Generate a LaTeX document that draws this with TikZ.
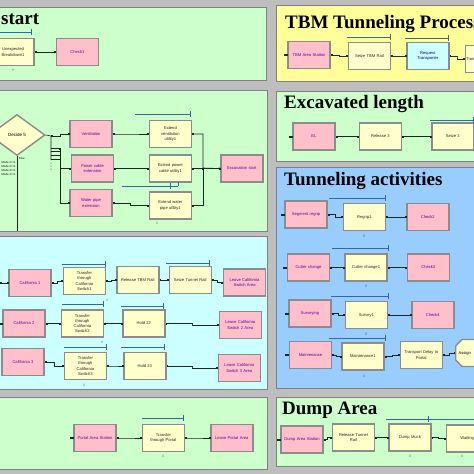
\documentclass[tikz,border=0pt]{standalone}
\usepackage{fontspec}
\setmainfont{Liberation Serif}
\setsansfont{Liberation Sans}
\usetikzlibrary{calc,positioning,arrows.meta,shapes.geometric,shapes.misc}
\definecolor{bggray}{RGB}{190,190,190}
\definecolor{panelgreen}{RGB}{204,255,204}
\definecolor{panelcyan}{RGB}{204,255,255}
\definecolor{panelyellow}{RGB}{255,255,153}
\definecolor{panelblue}{RGB}{153,204,255}
\definecolor{pinkbox}{RGB}{255,192,203}
\definecolor{yelbox}{RGB}{255,255,204}
\definecolor{cyanbox}{RGB}{204,255,255}
\definecolor{modedge}{RGB}{140,140,140}
\definecolor{purptext}{RGB}{102,0,153}
\definecolor{resblue}{RGB}{51,102,170}
\definecolor{linkgray}{RGB}{25,40,30}
\tikzset{
  module/.style={
    rectangle,
    draw=modedge, line width=1.4pt,
    minimum width=42pt,
    minimum height=27pt,
    inner sep=0.5pt,
    text width=40pt,
    align=center,
    font=\sffamily\fontsize{4.1}{5.2}\selectfont},
  create/.style={module, fill=pinkbox, text=purptext},
  process/.style={module, fill=yelbox, text=black!85},
  request/.style={module, fill=cyanbox, text=blue!50!black},
  assigner/.style={module, chamfered rectangle, chamfered rectangle xsep=4pt, chamfered rectangle ysep=4pt, fill=yelbox, align=left},
  decision/.style={diamond, draw=modedge, line width=1.4pt, fill=yelbox,
    minimum width=56pt, minimum height=41pt, inner sep=0pt,
    font=\sffamily\fontsize{4.5}{5.4}\selectfont},
  panel/.style={draw=black!50, line width=0.8pt},
  paneltitle/.style={anchor=base west, inner sep=0pt,
    font=\bfseries\fontsize{19}{19}\selectfont},
  link/.style={draw=linkgray, line width=0.6pt, {Square[length=1.5pt]}-{Square[length=1.5pt]}},
  wire/.style={draw=linkgray, line width=0.6pt},
  jog/.style={to path={-| ($(\tikztostart)!.5!(\tikztotarget)$) |- (\tikztotarget)}},
  resbar/.style={draw=resblue, line width=0.8pt},
  counter/.style={font=\sffamily\fontsize{3.5}{4}\selectfont, inner sep=0pt},
  tinylabel/.style={font=\sffamily\fontsize{2.8}{3}\selectfont, inner sep=0pt},
}
\begin{document}
\begin{tikzpicture}[x=1pt, y=-1pt]
    \path[use as bounding box] (0,0) rectangle (474,474);
    \clip (0,0) rectangle (474,474);
    \fill[bggray] (0,0) rectangle (474,474);

    % panels
    \filldraw[panel, fill=panelgreen] (-5,7) rectangle (266,80);
    \filldraw[panel, fill=panelgreen] (-5,90) rectangle (267,231);
    \filldraw[panel, fill=panelcyan] (-5,236) rectangle (267,389);
    \filldraw[panel, fill=panelgreen] (-5,397) rectangle (267,469);
    \filldraw[panel, fill=panelyellow] (276,5) rectangle (480,81);
    \filldraw[panel, fill=panelgreen] (276,91) rectangle (480,161);
    \filldraw[panel, fill=panelblue] (276,167) rectangle (480,388);
    \filldraw[panel, fill=panelgreen] (276,397) rectangle (480,466);

    \node[paneltitle] (ttlstart) at (1,24) {start};
    \node[paneltitle] (ttltbm) at (285,28) {TBM Tunneling Process};
    \node[paneltitle] (ttlexc) at (284,108) {Excavated length};
    \node[paneltitle] (ttltun) at (284,185) {Tunneling activities};
    \node[paneltitle] (ttldump) at (282,414) {Dump Area};

    % breakdown start
    \node[process] (brk) at (13,52) {Unexpected\\Breakdown1};
    \node[create, right=21pt of brk] (check1) {Check1};

    % decide and utilities
    \node[decision] (decide) at (17,135) {Decide 5};
    \node[create] (vent) at (91,134) {Ventilation};
    \node[create] (power) at (92.5,168.5) {Power cable\\extension};
    \node[create] (water) at (91,203) {Water pipe\\extension};
    \node[process, right=36pt of vent] (extvent) {Extend\\ventilation\\utility1};
    \node[process, right=34.5pt of power] (extpower) {Extend power\\cable utility1};
    \node[process, right=36pt of water, yshift=-2.5pt] (extwater) {Extend water\\pipe utility1};
    \node[create, right=28pt of extpower] (excav) {Excavation start};

    \node[tinylabel, anchor=west] (elselbl) at (19,158) {Else};
    \foreach \y/\m in {162/1,166/2,170/3,174/4}
        \node[tinylabel, anchor=east] at (16,\y) {Mode \m==1};

    % california switches
    \node[create] (cal1) at (30,283) {California 1};
    \node[process, right=11pt of cal1, yshift=2pt] (trans1) {Transfer\\through\\California\\Switch1};
    \node[process, right=10pt of trans1, yshift=1pt] (reltbm) {Release TBM Rail};
    \node[process, right=9pt of reltbm] (seizetun) {Seize Tunnel Rail};
    \node[create, right=11pt of seizetun, yshift=-2.5pt] (leavecal1) {Leave California\\Switch Area};

    \node[create] (cal2) at (24,323.5) {California 2};
    \node[process, right=15pt of cal2] (trans2) {Transfer\\through\\California\\Switch2};
    \node[process, right=18pt of trans2] (hold22) {Hold 22};
    \node[create, right=53pt of hold22, yshift=-1.5pt] (leavecal2) {Leave California\\Switch 2 Area};

    \node[create] (cal3) at (23,362) {California 3};
    \node[process, right=19pt of cal3, yshift=-4pt] (trans3) {Transfer\\through\\California\\Switch3};
    \node[process, right=16pt of trans3] (hold23) {Hold 23};
    \node[create, right=51pt of hold23, yshift=-2pt] (leavecal3) {Leave California\\Switch 3 Area};

    % portal
    \node[create] (portalst) at (95,438) {Portal Area Station};
    \node[process, right=25pt of portalst] (transportal) {Transfer\\through Portal};
    \node[create, right=25pt of transportal] (leaveportal) {Leave Portal Area};

    % TBM tunneling process
    \node[create] (tbmst) at (309,55) {TBM Area Station};
    \node[process, right=17pt of tbmst, yshift=-1pt] (seizetbm) {Seize TBM Rail};
    \node[request, right=15pt of seizetbm] (reqtrans) {Request\\Transporter};
    \node[process, right=15pt of reqtrans, yshift=-3pt, align=left] (transtbm) {Transfer};

    % excavated length
    \node[create] (el) at (314,136.5) {EL};
    \node[process, right=23pt of el] (rel3) {Release 3};
    \node[process, right=29pt of rel3] (seize3) {Seize 3};

    % tunneling activities
    \node[create] (segreg) at (306,214.5) {Segment regrip};
    \node[process, right=15pt of segreg, yshift=-2.5pt] (regrip) {Regrip1};
    \node[create, right=20pt of regrip] (check2) {Check2};

    \node[create] (cutter) at (308.5,267.5) {Cutter change};
    \node[process, right=14pt of cutter] (cutter1) {Cutter change1};
    \node[create, right=19pt of cutter1] (check3) {Check3};

    \node[create] (survey) at (310,313.5) {Surveying};
    \node[process, right=13pt of survey, yshift=-1.5pt] (survey1) {Survey1};
    \node[create, right=23pt of survey1] (check4) {Check4};

    \node[create] (maint) at (310.5,355) {Maintenance};
    \node[process, right=9pt of maint, yshift=-1.5pt] (maint1) {Maintenance1};
    \node[process, right=15pt of maint1, yshift=1.5pt] (transdelay) {Transport Delay to\\Portal};
    \node[assigner, right=12pt of transdelay, yshift=2pt] (assign) {Assign};

    % dump area
    \node[create] (dumpst) at (302,439.5) {Dump Area Station};
    \node[process, right=8pt of dumpst, yshift=2pt] (reltun) {Release Tunnel\\Rail};
    \node[process, right=13pt of reltun] (dumpmuck) {Dump Muck};
    \node[process, right=14pt of dumpmuck, yshift=-1pt] (waiting) {Waiting};

    % resource bars
    \foreach \xa/\xb/\xt/\y in {0/31/31/32, 135/190/190/114, 122/178/170/186,
        62/105/105/264, 166/209/209/263, 62/103/103/304, 121/163/163/306,
        64/106/106/347, 121/164/164/347, 142/183/183/418,
        347/390/390/37, 405/448/448/38, 430/480/473/120,
        329/385/385/198, 332/388/388/248, 331/388/388/296, 329/385/385/338,
        386/480/428/419}
        \draw[resbar] (\xa,\y) -- (\xb,\y) (\xt,\y-3) -- (\xt,\y+3);
    \draw[resbar] (178,182) -- (178,186);

    % counters
    \foreach \x/\y in {13/70, 157/223, 107/300, 102/342, 84/385, 163/456,
        364/236, 366/286, 366/334, 364/376, 410/456, 462/456}
        \node[counter] at (\x,\y) {I};

    % decide exits
    \coordinate (dexit) at (51,136);
    \coordinate (dbus) at (51,160);
    \coordinate (ubus) at (60,148);
    \coordinate (elseend) at (17,231);
    \coordinate (merge) at (203,168);
    \draw[wire] (decide.east) -- (dexit) -- (dbus);
    \foreach \y in {148,151,155,159}
        \draw[wire] (51,\y) -- (60,\y);
    \foreach \y in {163,166,169}
        \fill[linkgray] (51,\y) circle (0.5);
    \draw[wire] (decide.south) -- (elseend);
    \draw[link] (dexit) -- (60,136) |- (vent.west);
    \draw[link] (ubus) |- (power.west);
    \draw[link] (ubus) |- (water.west);

    % connectors
    \draw[link] (brk.east) -- (check1.west);
    \draw[link] (vent.east) to[jog] (extvent.west);
    \draw[link] (power.east) to[jog] (extpower.west);
    \draw[link] (water.east) to[jog] (extwater.west);
    \draw[link] (extvent.east) -| (merge) -- (excav.west);
    \draw[link] (extwater.east) -| (merge);
    \draw[link] (extpower.east) -- (excav.west);

    \coordinate (incal1) at (0,283);
    \coordinate (incal2) at (0,323.5);
    \draw[link] (incal1) -- (cal1.west);
    \draw[link] (cal1.east) to[jog] (trans1.west);
    \draw[link] (trans1.east) to[jog] (reltbm.west);
    \draw[link] (reltbm.east) -- (seizetun.west);
    \draw[link] (seizetun.east) to[jog] (leavecal1.west);
    \draw[link] (incal2) -- (cal2.west);
    \draw[link] (cal2.east) -- (trans2.west);
    \draw[link] (trans2.east) -- (hold22.west);
    \draw[link] (hold22.east) to[jog] (leavecal2.west);
    \draw[link] (cal3.east) to[jog] (trans3.west);
    \draw[link] (trans3.east) to[jog] (hold23.west);
    \draw[link] (hold23.east) to[jog] (leavecal3.west);

    \coordinate (inportal) at (70,438);
    \draw[link] (inportal) -- (portalst.west);
    \draw[link] (portalst.east) to[jog] (transportal.west);
    \draw[link] (transportal.east) to[jog] (leaveportal.west);

    \coordinate (intbm) at (284,55);
    \draw[link] (intbm) -- (tbmst.west);
    \draw[link] (tbmst.east) to[jog] (seizetbm.west);
    \draw[link] (seizetbm.east) -- (reqtrans.west);
    \draw[link] (reqtrans.east) to[jog] (transtbm.west);

    \coordinate (inel) at (289,136.5);
    \draw[link] (inel) -- (el.west);
    \draw[link] (el.east) to[jog] (rel3.west);
    \draw[link] (rel3.east) -- (seize3.west);

    \coordinate (inseg) at (281,214.5);
    \coordinate (incut) at (283,267.5);
    \coordinate (insur) at (285,313.5);
    \coordinate (inmaint) at (285,355);
    \draw[link] (inseg) -- (segreg.west);
    \draw[link] (segreg.east) to[jog] (regrip.west);
    \draw[link] (regrip.east) -- (check2.west);
    \draw[link] (incut) -- (cutter.west);
    \draw[link] (cutter.east) -- (cutter1.west);
    \draw[link] (cutter1.east) -- (check3.west);
    \draw[link] (insur) -- (survey.west);
    \draw[link] (survey.east) to[jog] (survey1.west);
    \draw[link] (survey1.east) -- (check4.west);
    \draw[link] (inmaint) -- (maint.west);
    \draw[link] (maint.east) to[jog] (maint1.west);
    \draw[link] (maint1.east) to[jog] (transdelay.west);
    \draw[link] (transdelay.east) to[jog] (assign.west);

    \coordinate (indump) at (277,439.5);
    \draw[link] (indump) -- (dumpst.west);
    \draw[link] (dumpst.east) to[jog] (reltun.west);
    \draw[link] (reltun.east) -- (dumpmuck.west);
    \draw[link] (dumpmuck.east) to[jog] (waiting.west);
\end{tikzpicture}
\end{document}
